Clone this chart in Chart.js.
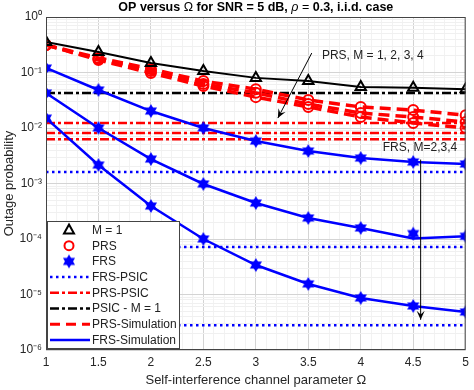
<!DOCTYPE html>
<html><head><meta charset="utf-8">
<script src="https://cdn.jsdelivr.net/npm/chart.js@4"></script>
<style>html,body{margin:0;padding:0;background:#fff}#wrap{width:474px;height:390px;position:relative}</style>
</head><body><div id="wrap"><canvas id="c" width="474" height="390"></canvas></div>
<script>
// ---------- data ----------
const omega = [1, 1.5, 2, 2.5, 3, 3.5, 4, 4.5, 5];
const opM1 = [0.354, 0.234, 0.148, 0.106, 0.080, 0.070, 0.055, 0.053, 0.050];
const opPRS_M2 = [0.313, 0.183, 0.116, 0.070, 0.050, 0.032, 0.024, 0.021, 0.017];
const opPRS_M3 = [0.313, 0.175, 0.106, 0.062, 0.043, 0.027, 0.0186, 0.0158, 0.0128];
const opPRS_M4 = [0.313, 0.168, 0.098, 0.057, 0.036, 0.024, 0.0158, 0.0123, 0.0100];
const opFRS_M2 = [0.1205, 0.0484, 0.0202, 0.0100, 0.00583, 0.00385, 0.00288, 0.00244, 0.00225];
const opFRS_M3 = [0.0427, 0.0100, 0.00276, 0.00098, 0.000445, 0.000239, 0.000158, 0.000125, 0.000112];
const opFRS_M3_sim = [0.0427, 0.0100, 0.00276, 0.00098, 0.000445, 0.000239, 0.000158, 0.000102, 0.000112];
const opFRS_M4 = [0.0151, 0.00215, 0.000393, 0.000100, 0.0000340, 0.0000155, 0.00000865, 0.00000621, 0.00000484];
const floorPSIC_M1 = [0.0427];
const floorPRS_PSIC = [0.0123, 0.0081, 0.0063];
const floorFRS_PSIC = [0.00161, 0.0000718, 0.0000028];
const xTickLabels = ['1', '1.5', '2', '2.5', '3', '3.5', '4', '4.5', '5'];
const yTickLabels = ['10\u2070', '10\u207B\u00B9', '10\u207B\u00B2', '10\u207B\u00B3', '10\u207B\u2074', '10\u207B\u2075', '10\u207B\u2076'];
const legendLabels = ['M = 1', 'PRS', 'FRS', 'FRS-PSIC', 'PRS-PSIC', 'PSIC - M = 1', 'PRS-Simulation', 'FRS-Simulation'];
const annotPRS = {text: 'PRS, M = 1, 2, 3, 4', tx: 3.63, ty: 0.198, x0: 3.533, y0: 0.224, x1: 3.21, y1: 0.0151};
const annotFRS = {text: 'FRS, M=2,3,4', tx: 4.21, ty: 0.00436, x0: 4.571, y0: 0.0027, x1: 4.571, y1: 0.0000035};

// ---------- styles ----------
const RED = '#ff0000', BLUE = '#0000ff', BLACK = '#000000';
const FONT = '"Liberation Sans", Arial, Helvetica, sans-serif';
function makeStar(r, color) {
  const c = document.createElement('canvas');
  const s = Math.ceil(2 * r + 2); c.width = s; c.height = s;
  const g = c.getContext('2d'); g.fillStyle = color;
  const cx = s / 2, cy = s / 2;
  for (const rot of [-Math.PI / 2, Math.PI / 2]) {
    g.beginPath();
    for (let i = 0; i < 3; i++) {
      const a = rot + i * 2 * Math.PI / 3;
      const px = cx + r * Math.cos(a), py = cy + r * Math.sin(a);
      if (i) g.lineTo(px, py); else g.moveTo(px, py);
    }
    g.closePath(); g.fill();
  }
  return c;
}
const STAR = makeStar(7, BLUE);
const pts = arr => omega.map((x, i) => ({x: x, y: arr[i]}));
const flat = v => [{x: omega[0], y: v}, {x: omega[omega.length - 1], y: v}];

const datasets = [];
floorFRS_PSIC.forEach(v => datasets.push({data: flat(v), borderColor: BLUE, borderWidth: 2.5, borderDash: [2.5, 3.5], pointRadius: 0, order: 5}));
floorPRS_PSIC.forEach(v => datasets.push({data: flat(v), borderColor: RED, borderWidth: 2.5, borderDash: [9, 3, 3, 3], pointRadius: 0, order: 5}));
floorPSIC_M1.forEach(v => datasets.push({data: flat(v), borderColor: BLACK, borderWidth: 2.5, borderDash: [9, 3, 3, 3], pointRadius: 0, order: 5}));
[opPRS_M2, opPRS_M3, opPRS_M4].forEach(a => datasets.push({data: pts(a), borderColor: RED, borderWidth: 3.5, borderDash: [11, 6], pointStyle: 'circle', pointRadius: 5, pointBorderWidth: 2, pointBorderColor: RED, pointBackgroundColor: 'rgba(0,0,0,0)', order: 3}));
[opFRS_M2, opFRS_M3_sim, opFRS_M4].forEach(a => datasets.push({data: pts(a), borderColor: BLUE, borderWidth: 2.5, pointRadius: 0, order: 2}));
[opFRS_M2, opFRS_M3, opFRS_M4].forEach(a => datasets.push({data: pts(a), showLine: false, pointStyle: STAR, pointRadius: 7, order: 1}));
datasets.push({data: pts(opM1), borderColor: BLACK, borderWidth: 2, pointStyle: 'triangle', pointRadius: 6, pointBorderWidth: 2, pointBorderColor: BLACK, pointBackgroundColor: 'rgba(0,0,0,0)', order: 0});

const isPow10 = v => Math.abs(Math.log10(v) - Math.round(Math.log10(v))) < 1e-6;

const decor = {
  id: 'decor',
  afterDraw(chart) {
    const ctx = chart.ctx, ca = chart.chartArea;
    const xs = chart.scales.x, ys = chart.scales.y;
    ctx.save();
    ctx.strokeStyle = '#444'; ctx.lineWidth = 1; ctx.setLineDash([]);
    ctx.strokeRect(ca.left + 0.5, ca.top + 0.5, ca.right - ca.left - 1, ca.bottom - ca.top - 1);
    const parts = [
      {t: 'OP versus ', f: 'bold 12.5px ' + FONT},
      {t: '\u03A9', f: '12.5px ' + FONT},
      {t: ' for SNR = 5 dB, ', f: 'bold 12.5px ' + FONT},
      {t: '\u03C1', f: 'italic 12.5px ' + FONT},
      {t: ' = ', f: '12.5px ' + FONT},
      {t: '0.3, i.i.d. case', f: 'bold 12.5px ' + FONT}
    ];
    let total = 0;
    parts.forEach(p => { ctx.font = p.f; p.w = ctx.measureText(p.t).width; total += p.w; });
    let x = (ca.left + ca.right) / 2 - total / 2;
    ctx.fillStyle = '#000'; ctx.textBaseline = 'middle'; ctx.textAlign = 'left';
    parts.forEach(p => { ctx.font = p.f; ctx.fillText(p.t, x, 8); x += p.w; });
    function arrow(a) {
      const px0 = xs.getPixelForValue(a.x0), py0 = ys.getPixelForValue(a.y0);
      const px1 = xs.getPixelForValue(a.x1), py1 = ys.getPixelForValue(a.y1);
      ctx.strokeStyle = '#000'; ctx.lineWidth = 1; ctx.setLineDash([]);
      ctx.beginPath(); ctx.moveTo(px0, py0); ctx.lineTo(px1, py1); ctx.stroke();
      const ang = Math.atan2(py1 - py0, px1 - px0), L = 9, W = 4;
      const bx = px1 - L * Math.cos(ang), by = py1 - L * Math.sin(ang);
      const mx = px1 - 0.6 * L * Math.cos(ang), my = py1 - 0.6 * L * Math.sin(ang);
      ctx.fillStyle = '#000'; ctx.beginPath();
      ctx.moveTo(px1, py1);
      ctx.lineTo(bx + W * Math.sin(ang), by - W * Math.cos(ang));
      ctx.lineTo(mx, my);
      ctx.lineTo(bx - W * Math.sin(ang), by + W * Math.cos(ang));
      ctx.closePath(); ctx.fill();
      ctx.font = '12px ' + FONT; ctx.textBaseline = 'middle'; ctx.textAlign = 'left'; ctx.fillStyle = '#222';
      ctx.fillText(a.text, xs.getPixelForValue(a.tx), ys.getPixelForValue(a.ty));
    }
    arrow(annotPRS); arrow(annotFRS);
    const lx = ca.left + 1, lw = 132, rowH = 15.7, lh = 127;
    const ly = ca.bottom - 2 - lh;
    ctx.fillStyle = '#fff'; ctx.fillRect(lx, ly, lw, lh);
    ctx.strokeStyle = '#444'; ctx.lineWidth = 1; ctx.strokeRect(lx + 0.5, ly + 0.5, lw, lh);
    const sx0 = lx + 3, sx1 = lx + 43, mxc = lx + 22, tx = lx + 45;
    legendLabels.forEach((lab, i) => {
      const cy = ly + 9 + i * rowH;
      ctx.setLineDash([]);
      if (i === 0) {
        ctx.strokeStyle = BLACK; ctx.lineWidth = 2; ctx.beginPath();
        ctx.moveTo(mxc, cy - 5.5); ctx.lineTo(mxc + 5, cy + 3.5); ctx.lineTo(mxc - 5, cy + 3.5); ctx.closePath(); ctx.stroke();
      } else if (i === 1) {
        ctx.strokeStyle = RED; ctx.lineWidth = 2; ctx.beginPath(); ctx.arc(mxc, cy, 4.5, 0, Math.PI * 2); ctx.stroke();
      } else if (i === 2) {
        ctx.drawImage(STAR, mxc - STAR.width / 2, cy - STAR.height / 2);
      } else {
        const st = [
          null, null, null,
          {c: BLUE, w: 2.5, d: [2.5, 3.5]},
          {c: RED, w: 2.5, d: [9, 3, 3, 3]},
          {c: BLACK, w: 2.5, d: [9, 3, 3, 3]},
          {c: RED, w: 3, d: [10, 6]},
          {c: BLUE, w: 2.5, d: []}
        ][i];
        ctx.strokeStyle = st.c; ctx.lineWidth = st.w; ctx.setLineDash(st.d);
        ctx.beginPath(); ctx.moveTo(sx0, cy); ctx.lineTo(sx1, cy); ctx.stroke();
        ctx.setLineDash([]);
      }
      ctx.fillStyle = '#222'; ctx.font = '12px ' + FONT; ctx.textAlign = 'left'; ctx.textBaseline = 'middle';
      ctx.fillText(lab, tx, cy + 0.5);
    });
    ctx.restore();
  }
};

new Chart(document.getElementById('c'), {
  type: 'line',
  data: {datasets: datasets},
  options: {
    responsive: false, animation: false, devicePixelRatio: 1,
    layout: {padding: {top: 17, right: 8, left: 0, bottom: 0}},
    elements: {line: {tension: 0}},
    plugins: {legend: {display: false}, tooltip: {enabled: false}, title: {display: false}},
    scales: {
      x: {
        type: 'linear', min: 1, max: 5,
        afterBuildTicks: s => { const t = []; for (let i = 0; i <= 40; i++) t.push({value: Math.round((1 + i * 0.1) * 10) / 10}); s.ticks = t; },
        afterFit: s => { s.height = 40; },
        ticks: {
          autoSkip: false, maxRotation: 0, padding: 5, color: '#262626', font: {family: FONT, size: 12},
          callback: v => { const k = Math.round((v - 1) * 2); return Math.abs((v - 1) * 2 - k) < 1e-6 ? xTickLabels[k] : ''; }
        },
        grid: {drawTicks: false, color: c => { const v = c.tick ? c.tick.value : 0; return Math.abs(v * 2 - Math.round(v * 2)) < 1e-6 ? '#d4d4d4' : '#f2f2f2'; }},
        border: {display: false},
        title: {display: true, text: 'Self-interference channel parameter \u03A9', color: '#262626', font: {family: FONT, size: 13}, padding: {top: 0, bottom: 2}}
      },
      y: {
        type: 'logarithmic', min: 1e-6, max: 1,
        afterBuildTicks: s => { const t = []; for (let k = -6; k < 0; k++) for (let m = 1; m <= 9; m++) t.push({value: m * Math.pow(10, k)}); t.push({value: 1}); s.ticks = t; },
        afterFit: s => { s.width = 46; },
        ticks: {
          autoSkip: false, padding: 4, color: '#262626', font: {family: FONT, size: 12},
          callback: v => isPow10(v) ? yTickLabels[-Math.round(Math.log10(v))] : ''
        },
        grid: {drawTicks: false, color: c => { const v = c.tick ? c.tick.value : 1; return isPow10(v) ? '#d4d4d4' : '#f0f0f0'; }},
        border: {display: false},
        title: {display: true, text: 'Outage probability', color: '#262626', font: {family: FONT, size: 13}, padding: {top: 2, bottom: 0}}
      }
    }
  },
  plugins: [decor]
});
</script>
</body></html>
